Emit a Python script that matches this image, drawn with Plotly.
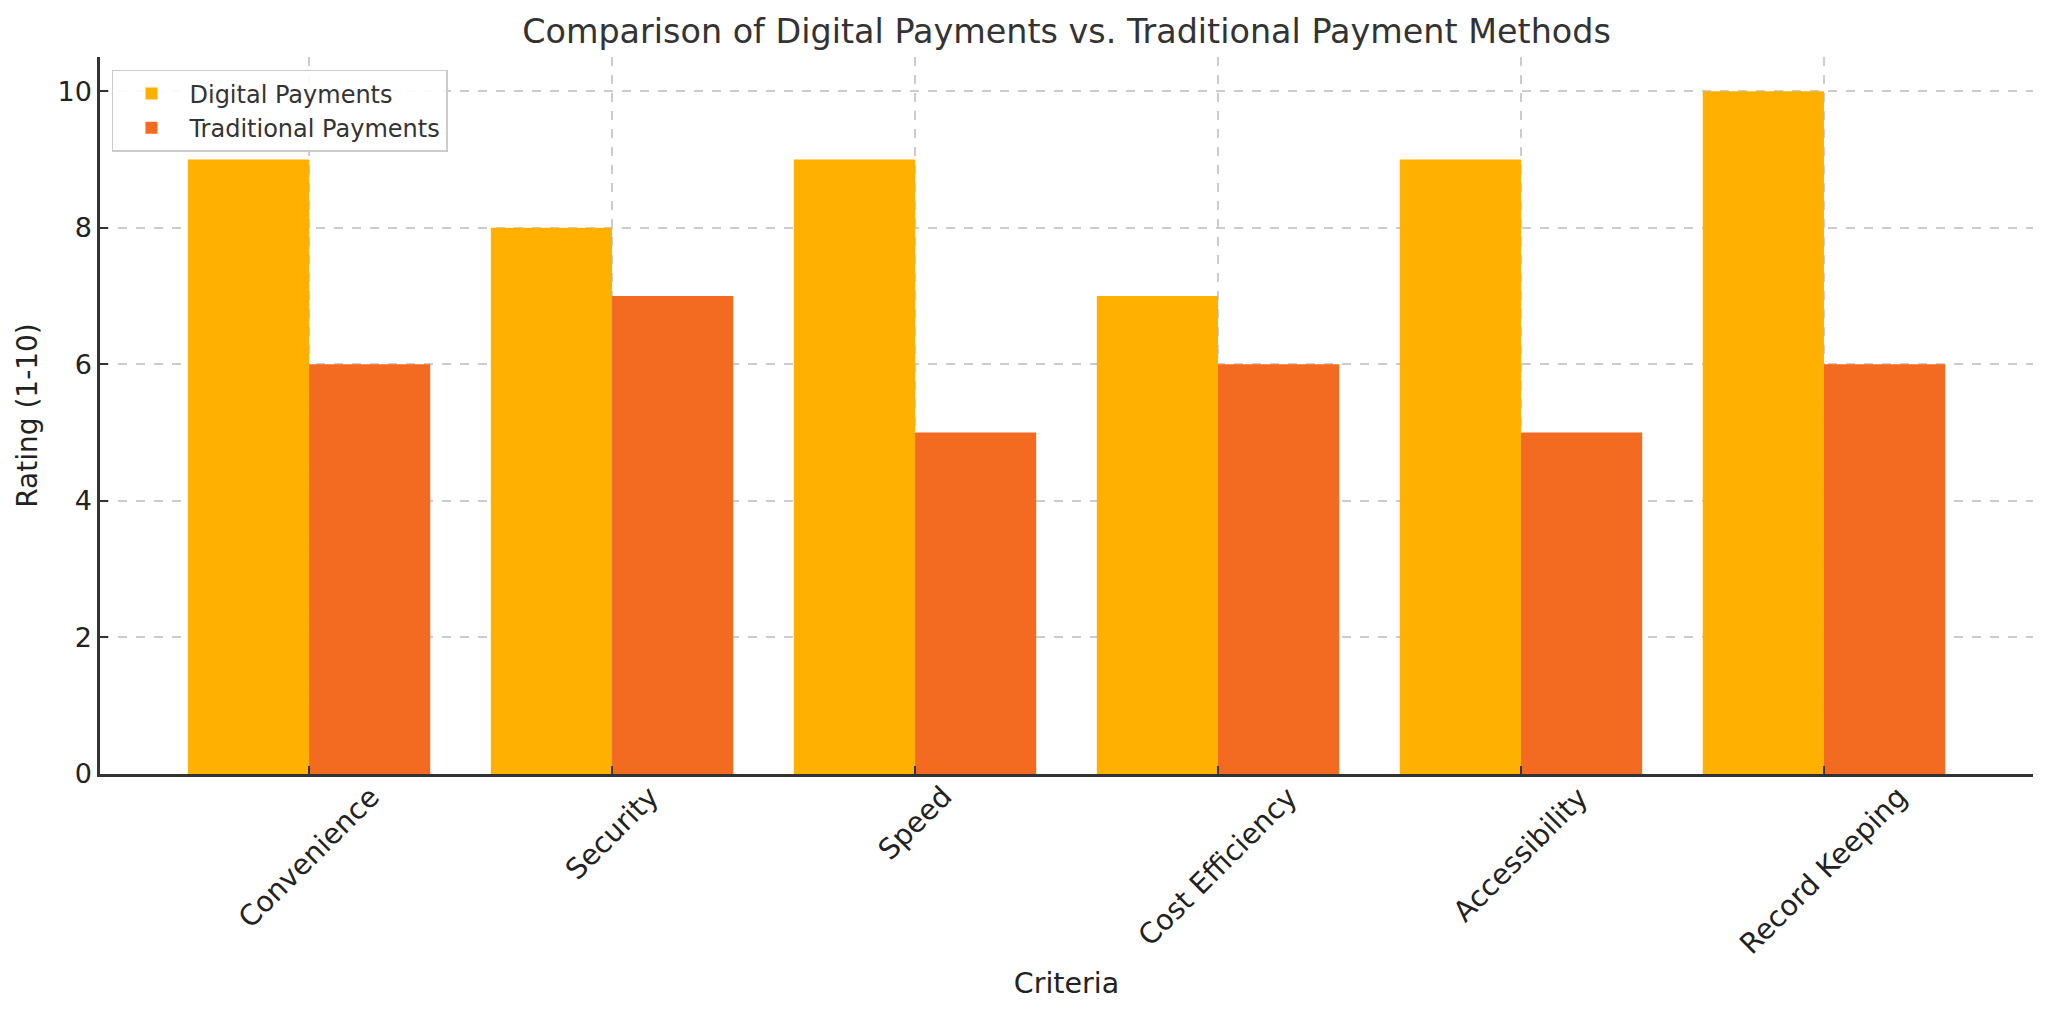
import plotly.graph_objects as go

categories = ["Convenience", "Security", "Speed", "Cost Efficiency", "Accessibility", "Record Keeping"]
digital = [9, 8, 9, 7, 9, 10]
traditional = [6, 7, 5, 6, 5, 6]
y_ticks = [0, 2, 4, 6, 8, 10]

W, H = 2048, 1016
L, R, T, B = 100, 15, 57, 242

xpos = list(range(len(categories)))

fig = go.Figure()
fig.add_trace(go.Bar(x=xpos, y=digital, name="Digital Payments",
                     marker=dict(color="#FFB000", line=dict(width=0))))
fig.add_trace(go.Bar(x=xpos, y=traditional, name="Traditional Payments",
                     marker=dict(color="#F26B21", line=dict(width=0))))

font = "DejaVu Sans, Verdana, sans-serif"

for i, c in enumerate(categories):
    fig.add_annotation(x=i, y=0, xref="x", yref="paper", text=c, showarrow=False,
                       textangle=-45, xanchor="center", yanchor="top", yshift=-4,
                       font=dict(family=font, size=28.5, color="#222222"))

fig.update_layout(
    width=W, height=H,
    margin=dict(l=L, r=R, t=T, b=B, autoexpand=False),
    paper_bgcolor="white", plot_bgcolor="white",
    barmode="group", bargap=0.2, bargroupgap=0,
    font=dict(family=font, color="#333333"),
    title=dict(text="Comparison of Digital Payments vs. Traditional Payment Methods",
               x=(L + (W - R)) / 2 / W, xanchor="center",
               y=1 - 31 / H, yanchor="middle",
               font=dict(family=font, size=33.4, color="#333333")),
    legend=dict(x=0.0062, y=0.982, xanchor="left", yanchor="top",
                bgcolor="rgba(255,255,255,0.9)", bordercolor="#cccccc", borderwidth=1.5,
                font=dict(family=font, size=24, color="#333333"),
                tracegroupgap=4, itemwidth=66),
    showlegend=True,
)

fig.update_xaxes(
    range=[-0.69, 5.69], tickvals=xpos, showticklabels=False,
    ticks="inside", ticklen=8, tickwidth=2, tickcolor="#333333",
    showline=True, linecolor="#333333", linewidth=2.5,
    showgrid=True, gridcolor="#cccccc", gridwidth=1.5, griddash="dash",
    layer="above traces", zeroline=False,
    title=dict(text="Criteria", standoff=198, font=dict(family=font, size=28.5, color="#222222")),
)
fig.update_yaxes(
    range=[0, 10.5], tickvals=y_ticks,
    ticks="inside", ticklen=8, tickwidth=2, tickcolor="#333333",
    showline=True, linecolor="#333333", linewidth=2.5,
    showgrid=True, gridcolor="#cccccc", gridwidth=1.5, griddash="dash",
    layer="above traces", zeroline=False,
    tickfont=dict(family=font, size=27, color="#222222"),
    title=dict(text="Rating (1-10)", standoff=12, font=dict(family=font, size=28, color="#222222")),
)

fig.write_html("out.html")
